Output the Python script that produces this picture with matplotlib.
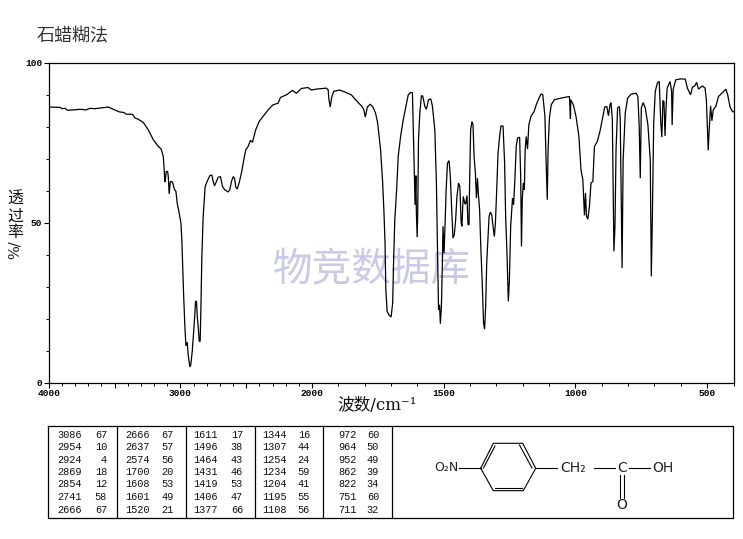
# -*- coding: utf-8 -*-
import numpy as np
import matplotlib
matplotlib.use('Agg')
import matplotlib.pyplot as plt

plt.rcParams['font.family'] = ['Noto Sans CJK SC', 'DejaVu Sans']

# spectrum (cm-1 / %T)
wavenumber = [4000, 3914, 3899, 3876, 3858, 3813, 3762, 3717, 3687, 3649, 3585, 3547, 3510, 3464, 3429, 3413,
              3363, 3345, 3320, 3282, 3244, 3206, 3168, 3146, 3130, 3123, 3118, 3113, 3108, 3097, 3092, 3085,
              3077, 3060, 3044, 3034, 3024, 3009, 2996, 2989, 2984, 2976, 2966, 2958, 2948, 2941, 2928, 2921,
              2910, 2900, 2890, 2885, 2878, 2872, 2865, 2857, 2850, 2845, 2837, 2827, 2819, 2812, 2797, 2776,
              2761, 2751, 2741, 2726, 2713, 2696, 2680, 2663, 2637, 2625, 2612, 2599, 2589, 2579, 2569, 2554,
              2534, 2519, 2503, 2486, 2468, 2453, 2428, 2402, 2372, 2334, 2296, 2258, 2240, 2195, 2149, 2119,
              2081, 2031, 2005, 1984, 1946, 1939, 1936, 1931, 1926, 1918, 1895, 1870, 1851, 1832, 1813, 1804,
              1798, 1790, 1779, 1769, 1759, 1751, 1745, 1740, 1732, 1727, 1723, 1720, 1715, 1707, 1700, 1694,
              1691, 1686, 1679, 1673, 1664, 1654, 1644, 1635, 1626, 1619, 1614, 1609, 1606, 1604, 1601, 1599,
              1596, 1591, 1585, 1580, 1572, 1566, 1558, 1549, 1543, 1534, 1528, 1523, 1520, 1516, 1513, 1509,
              1505, 1503, 1499, 1495, 1491, 1486, 1480, 1475, 1470, 1465, 1460, 1455, 1450, 1444, 1439, 1434,
              1431, 1428, 1426, 1420, 1417, 1412, 1408, 1404, 1402, 1398, 1393, 1389, 1385, 1380, 1376, 1372,
              1369, 1364, 1360, 1354, 1349, 1345, 1341, 1337, 1332, 1328, 1323, 1318, 1313, 1308, 1304, 1299,
              1294, 1288, 1283, 1275, 1269, 1265, 1260, 1255, 1251, 1246, 1241, 1239, 1235, 1230, 1225, 1220,
              1212, 1208, 1205, 1202, 1198, 1194, 1191, 1187, 1182, 1177, 1169, 1157, 1149, 1141, 1131, 1124,
              1116, 1111, 1107, 1104, 1099, 1092, 1080, 1054, 1023, 1019, 1018, 1008, 998, 987, 979, 972,
              966, 962, 958, 953, 947, 941, 934, 928, 917, 907, 896, 889, 881, 875, 869, 865,
              860, 854, 850, 846, 840, 833, 830, 823, 819, 811, 802, 789, 770, 763, 758, 754,
              750, 743, 735, 725, 716, 712, 708, 703, 697, 689, 682, 676, 672, 668, 664, 660,
              657, 652, 641, 635, 633, 629, 619, 600, 583, 575, 563, 556, 547, 540, 533, 518,
              508, 503, 496, 493, 487, 482, 477, 467, 457, 442, 429, 422, 413, 404, 400]
transmittance = [86.1, 86.0, 85.6, 85.7, 85.1, 85.2, 85.4, 85.2, 85.7, 85.6, 85.9, 86.1, 85.4, 84.6, 84.4, 83.9,
                 83.8, 82.7, 82.3, 81.3, 79.0, 75.9, 73.8, 73.0, 70.7, 66.5, 62.7, 63.9, 66.0, 66.0, 64.4, 59.0,
                 62.9, 62.7, 60.3, 59.8, 56.1, 53.0, 49.9, 44.7, 38.5, 28.1, 17.7, 11.6, 12.7, 8.8, 5.0, 5.7,
                 9.9, 15.6, 21.8, 25.5, 25.5, 20.8, 17.7, 13.0, 13.0, 21.8, 39.5, 52.0, 57.2, 61.3, 62.9, 64.7,
                 64.9, 62.9, 61.5, 62.9, 64.2, 64.4, 61.3, 60.3, 59.6, 60.3, 62.9, 64.4, 63.9, 61.1, 60.5, 62.4,
                 66.0, 69.6, 72.8, 73.8, 75.7, 75.1, 79.0, 81.6, 83.2, 85.2, 86.8, 87.3, 89.1, 89.9, 91.3, 90.4,
                 91.9, 92.2, 91.4, 91.7, 92.0, 91.5, 88.4, 86.1, 88.9, 91.0, 91.4, 90.6, 89.9, 88.1, 86.5, 85.4,
                 83.0, 86.1, 87.0, 86.1, 84.2, 81.1, 76.7, 72.8, 62.4, 53.0, 43.7, 29.1, 22.3, 21.1, 20.6, 24.9,
                 36.4, 50.9, 60.3, 70.7, 76.9, 82.1, 86.3, 89.9, 90.6, 90.6, 72.8, 55.6, 64.7, 53.0, 45.5, 53.0,
                 75.9, 84.2, 89.6, 89.6, 86.3, 85.4, 88.4, 88.6, 86.3, 79.0, 62.4, 37.4, 22.9, 24.4, 18.5, 23.9,
                 38.5, 48.9, 40.5, 49.9, 60.3, 68.6, 69.4, 64.4, 54.1, 45.2, 46.3, 50.9, 58.2, 62.4, 61.3, 49.9,
                 48.9, 55.1, 58.2, 55.9, 55.9, 58.5, 49.4, 49.4, 62.4, 79.0, 81.6, 80.6, 70.7, 65.5, 57.7, 63.9,
                 59.3, 54.1, 43.7, 31.2, 18.7, 16.8, 23.9, 37.4, 45.2, 52.0, 53.3, 52.5, 48.9, 45.7, 49.9, 60.3,
                 71.7, 76.9, 80.2, 80.2, 68.6, 51.5, 40.5, 25.5, 31.7, 48.9, 55.1, 57.7, 55.6, 63.4, 73.8, 76.4,
                 76.7, 64.4, 42.6, 57.2, 62.4, 60.3, 72.8, 76.9, 73.0, 80.6, 83.2, 84.7, 86.8, 88.4, 90.2, 89.9,
                 83.2, 67.6, 57.2, 72.8, 82.6, 86.8, 88.4, 88.9, 89.4, 82.4, 88.4, 86.8, 83.2, 76.9, 66.5, 63.4,
                 52.3, 59.3, 52.0, 51.1, 55.1, 62.4, 62.9, 73.8, 75.4, 78.5, 83.2, 86.1, 86.3, 83.4, 86.8, 87.5,
                 82.1, 41.1, 48.9, 72.8, 85.8, 86.3, 82.1, 35.9, 69.6, 84.2, 88.9, 90.1, 90.4, 89.4, 80.0, 63.9,
                 85.8, 87.5, 85.8, 80.6, 69.6, 33.3, 52.0, 81.1, 91.0, 93.6, 94.1, 81.1, 76.7, 88.1, 87.8, 77.1,
                 84.2, 92.0, 94.1, 91.0, 80.5, 91.7, 94.6, 94.9, 94.8, 92.0, 89.9, 92.3, 92.7, 93.8, 91.7, 92.7,
                 92.0, 88.4, 72.6, 78.0, 86.5, 81.8, 85.2, 86.3, 89.4, 90.6, 91.7, 89.9, 86.1, 84.7, 84.6]

x_major = [4000, 3000, 2000, 1500, 1000, 500]
x_major_labels = ['4000', '3000', '2000', '1500', '1000', '500']
x_unlabeled = [3500, 2500]
y_major = [0, 50, 100]

# peak table
peak_wn = [[3086, 2954, 2924, 2869, 2854, 2741, 2666],
           [2666, 2637, 2574, 1700, 1608, 1601, 1520],
           [1611, 1496, 1464, 1431, 1419, 1406, 1377],
           [1344, 1307, 1254, 1234, 1204, 1195, 1108],
           [972, 964, 952, 862, 822, 751, 711]]
peak_t = [[67, 10, 4, 18, 12, 58, 67],
          [67, 57, 56, 20, 53, 49, 21],
          [17, 38, 43, 46, 53, 47, 66],
          [16, 44, 24, 59, 41, 55, 56],
          [60, 50, 49, 39, 34, 60, 32]]

W, H = 743, 539
MONO = 'Liberation Mono'
SERIF = ['DejaVu Serif', 'Noto Sans CJK SC']


def forward(v):
    v = np.asarray(v, dtype=float)
    return np.where(v >= 2000, v / 2 + 1000, v)


def inverse(v):
    v = np.asarray(v, dtype=float)
    return np.where(v >= 2000, (v - 1000) * 2, v)


fig = plt.figure(figsize=(W / 100, H / 100), dpi=100)

# overlay in pixel units for the text, the table and the structure, under the curve
ov = fig.add_axes([0, 0, 1, 1], zorder=1)
ov.set_xlim(0, W)
ov.set_ylim(H, 0)
ov.axis('off')

ax = fig.add_axes([48.7 / W, 1 - 383 / H, 684.8 / W, 320.5 / H], zorder=2, facecolor='none')
ax.set_xscale('function', functions=(forward, inverse))
ax.set_xlim(4000, 400)
ax.set_ylim(0, 100)
ax.plot(wavenumber, transmittance, color='black', lw=0.9, solid_joinstyle='miter')

ax.set_xticks(x_major + x_unlabeled)
ax.set_xticklabels(x_major_labels + [''] * len(x_unlabeled), family=MONO, fontsize=6.8, weight='bold')
ax.set_xticks(np.arange(400, 4001, 100), minor=True)
ax.set_yticks(y_major)
ax.set_yticklabels(['0', '50', '100'], family=MONO, fontsize=6.8, weight='bold')
ax.set_yticks(np.arange(0, 101, 10), minor=True)
ax.tick_params(which='major', length=3.6, width=0.8, pad=1, color='black')
ax.tick_params(which='minor', length=2, width=0.7, color='black')
for s in ax.spines.values():
    s.set_linewidth(0.9)

ov.text(37, 36.5, '石蜡糊法', fontsize=13, color='#333333', va='center', ha='left')
ov.text(372, 269, '物竞数据库', fontsize=28.5, color='#c9c9e8', va='center', ha='center')
ov.text(377, 405, '波数/cm⁻¹', fontsize=12, family=SERIF, color='#111111', va='center', ha='center')
for ch, yy in zip('透过率', [199, 216, 233]):
    ov.text(15, yy, ch, fontsize=11.5, color='#111111', va='center', ha='center')
ov.text(15, 250, '%/', fontsize=10.5, family=SERIF, color='#111111', rotation=90, va='center', ha='center')

# table frame
ov.plot([48.3, 733.3, 733.3, 48.3, 48.3], [426, 426, 518.3, 518.3, 426], color='black', lw=0.9)
for xx in [117.3, 185.7, 254.7, 322.7, 392]:
    ov.plot([xx, xx], [426, 518.3], color='black', lw=0.9)

row_y = [435, 447, 460, 472, 484, 497, 510]
col_wn_right = [82, 150, 218, 287, 357]
col_t_right = [107, 174, 243, 310, 379]
for c in range(5):
    for r in range(7):
        ov.text(col_wn_right[c], row_y[r], str(peak_wn[c][r]), family=MONO, fontsize=7.4,
                ha='right', va='center', color='#111111')
        ov.text(col_t_right[c], row_y[r], str(peak_t[c][r]), family=MONO, fontsize=7.4,
                ha='right', va='center', color='#111111')

# structure, p-nitrophenylacetic acid
ring = [(480.7, 468.3), (493.3, 443.3), (522.7, 443.3), (535.7, 468.3), (523.3, 490.7), (493.3, 490.7), (480.7, 468.3)]
ov.plot([p[0] for p in ring], [p[1] for p in ring], color='black', lw=0.8)
for seg in [[(483.5, 468), (495, 446)], [(519.5, 445), (532, 468)], [(495, 488), (521.5, 488)],
            [(458.5, 467.7), (480.7, 467.7)], [(535.7, 467.7), (556.5, 467.7)], [(593.5, 467.7), (615, 467.7)],
            [(628.5, 467.7), (649.5, 467.7)], [(620, 475), (620, 498)], [(624, 475), (624, 498)]]:
    ov.plot([seg[0][0], seg[1][0]], [seg[0][1], seg[1][1]], color='black', lw=0.8)
ov.text(458.5, 467.5, 'O₂N', family=['DejaVu Sans'], fontsize=9, ha='right', va='center', color='#222222')
ov.text(560, 467.5, 'CH₂', family=['DejaVu Sans'], fontsize=10, ha='left', va='center', color='#222222')
ov.text(622, 467.5, 'C', family=['DejaVu Sans'], fontsize=10, ha='center', va='center', color='#222222')
ov.text(663, 467.5, 'OH', family=['DejaVu Sans'], fontsize=10, ha='center', va='center', color='#222222')
ov.text(622, 505, 'O', family=['DejaVu Sans'], fontsize=10, ha='center', va='center', color='#222222')

fig.savefig('out.png', dpi=100)
